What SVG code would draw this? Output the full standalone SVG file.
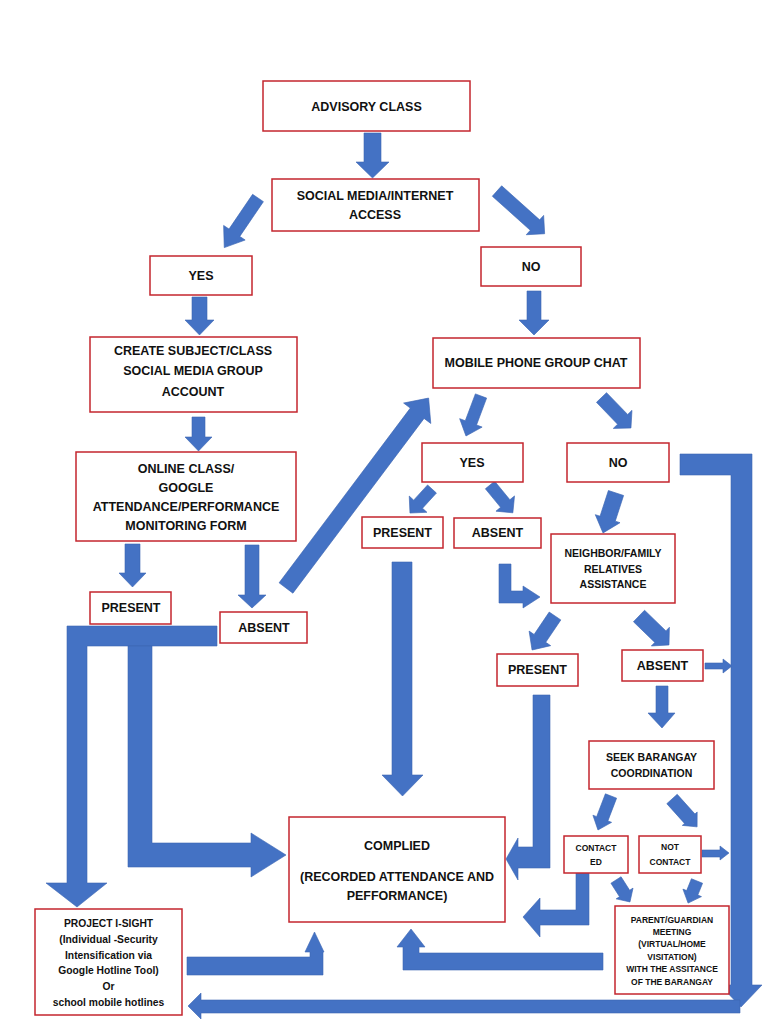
<svg xmlns="http://www.w3.org/2000/svg" width="768" height="1024" viewBox="0 0 768 1024">
<style>
.box{fill:#fff;stroke:#c4262e;stroke-width:1.5}
.t{font-family:"Liberation Sans",Arial,sans-serif;font-weight:bold;fill:#111;text-anchor:middle;font-size:12.5px}
.s{font-size:10.5px}
.xs{font-size:8.5px}
.m{font-size:10.3px}
.arr{fill:#4472c4;stroke:#3d67b3;stroke-width:0.6}
</style>
<rect width="768" height="1024" fill="#fff"/>
<g id="connectors">
<polygon class="arr" points="364,133 381,133 381,162 389,162 372.5,178 356,162 364,162"/>
<path class="arr" transform="translate(258,198) rotate(124.2)" d="M0,-6.5 H42 V-13 L60,0 L42,13 V6.5 H0 Z"/>
<path class="arr" transform="translate(497,191) rotate(41.9)" d="M0,-7 H51 V-13 L64,0 L51,13 V7 H0 Z"/>
<polygon class="arr" points="192,297 207,297 207,320 214,320 199.5,335 185,320 192,320"/>
<polygon class="arr" points="527,291 541,291 541,320 549,320 534,335 519,320 527,320"/>
<polygon class="arr" points="192,417 205,417 205,437 212,437 198.5,451 185,437 192,437"/>
<polygon class="arr" points="125,544 140,544 140,573 146,573 132.5,587 119,573 125,573"/>
<polygon class="arr" points="245,545 259,545 259,595 266,595 252,608 238,595 245,595"/>
<path class="arr" transform="translate(286,588) rotate(-53.1)" d="M0,-8.6 H218.5 V-17 L237.5,0 L218.5,17 V8.6 H0 Z"/>
<path class="arr" transform="translate(481,396) rotate(110.6)" d="M0,-6 H28.7 V-12 L42.7,0 L28.7,12 V6 H0 Z"/>
<path class="arr" transform="translate(601.5,397.5) rotate(46)" d="M0,-7 H30.4 V-13 L42.4,0 L30.4,13 V7 H0 Z"/>
<path class="arr" transform="translate(432,489) rotate(132.5)" d="M0,-6 H20.6 V-12 L32.6,0 L20.6,12 V6 H0 Z"/>
<path class="arr" transform="translate(490,485) rotate(50.6)" d="M0,-6 H24 V-12 L36,0 L24,12 V6 H0 Z"/>
<path class="arr" transform="translate(616,493) rotate(108)" d="M0,-8 H27 V-13 L42,0 L27,13 V8 H0 Z"/>
<polygon class="arr" points="499,564 511,564 511,591 523,591 523,586 540,597 523,608 523,603 499,603"/>
<path class="arr" transform="translate(555,616) rotate(124)" d="M0,-7 H27 V-13 L41,0 L27,13 V7 H0 Z"/>
<path class="arr" transform="translate(639,616) rotate(44)" d="M0,-8 H29.7 V-13 L41.7,0 L29.7,13 V8 H0 Z"/>
<polygon class="arr" points="705,663 723,663 723,659 732,666 723,673 723,669 705,669"/>
<polygon class="arr" points="656,686 668,686 668,713 675,713 662,728 648,713 656,713"/>
<polygon class="arr" points="392,562 412,562 412,775 423,775 402.5,796 382,775 392,775"/>
<polygon class="arr" points="533,695 550,695 550,868 518,868 518,880 506,859 518,838 518,847 533,847"/>
<polygon class="arr" points="680,454 752,454 752,985 762,985 741,1007 720,985 731,985 731,475 680,475"/>
<polygon class="arr" points="740,1000 740,1013 201,1013 201,1019 188,1006 201,993 201,1000"/>
<polygon class="arr" points="67,626 217,626 217,646 87,646 87,883 107,883 77,907 46,883 67,883"/>
<polygon class="arr" points="128,646 152,646 152,843 251,843 251,833 286,855 251,877 251,867 128,867"/>
<polygon class="arr" points="187,957 310,957 310,952 305,952 314.5,932 324,952 323,952 323,975 187,975"/>
<polygon class="arr" points="603,953 419,953 419,947 425,947 411,929 397,947 403,947 403,970 603,970"/>
<polygon class="arr" points="576,872 589,872 589,910 589,925 540,925 540,937 523,917 540,898 540,910 576,910"/>
<path class="arr" transform="translate(611,796) rotate(111)" d="M0,-6 H24.4 V-10 L36.4,0 L24.4,10 V6 H0 Z"/>
<path class="arr" transform="translate(672,799) rotate(48)" d="M0,-7 H26.5 V-10 L37.5,0 L26.5,10 V7 H0 Z"/>
<polygon class="arr" points="702,850 720,850 720,846 729,853 720,860 720,857 702,857"/>
<path class="arr" transform="translate(616,880) rotate(57.5)" d="M0,-6 H16 V-10 L26,0 L16,10 V6 H0 Z"/>
<path class="arr" transform="translate(697,881) rotate(112)" d="M0,-6 H12.8 V-10 L23.8,0 L12.8,10 V6 H0 Z"/>
</g>
<g id="advisory"><rect class="box" x="263" y="81" width="207" height="50"/><text class="t" x="366.5" y="111">ADVISORY CLASS</text></g>
<g id="social"><rect class="box" x="272" y="179" width="207" height="52"/><text class="t" x="375" y="200">SOCIAL MEDIA/INTERNET</text><text class="t" x="375" y="219">ACCESS</text></g>
<g id="yes1"><rect class="box" x="150" y="256" width="102" height="39"/><text class="t" x="201" y="280">YES</text></g>
<g id="no1"><rect class="box" x="481" y="247" width="100" height="39"/><text class="t" x="531" y="271">NO</text></g>
<g id="create"><rect class="box" x="90" y="337" width="207" height="75"/><text class="t" x="193" y="355">CREATE SUBJECT/CLASS</text><text class="t" x="193" y="375">SOCIAL MEDIA GROUP</text><text class="t" x="193" y="396">ACCOUNT</text></g>
<g id="mobile"><rect class="box" x="433" y="338" width="207" height="50"/><text class="t" x="536" y="367">MOBILE PHONE GROUP CHAT</text></g>
<g id="online"><rect class="box" x="76" y="452" width="220" height="89"/><text class="t" x="186" y="473">ONLINE CLASS/</text><text class="t" x="186" y="492">GOOGLE</text><text class="t" x="186" y="511">ATTENDANCE/PERFORMANCE</text><text class="t" x="186" y="530">MONITORING FORM</text></g>
<g id="present1"><rect class="box" x="90" y="592" width="81" height="32"/><text class="t" x="131" y="612">PRESENT</text></g>
<g id="absent1"><rect class="box" x="220" y="612" width="87" height="31"/><text class="t" x="264" y="632">ABSENT</text></g>
<g id="yes2"><rect class="box" x="422" y="443" width="101" height="39"/><text class="t" x="472" y="467">YES</text></g>
<g id="no2"><rect class="box" x="567" y="443" width="102" height="39"/><text class="t" x="618" y="467">NO</text></g>
<g id="present2"><rect class="box" x="362" y="517" width="81" height="31"/><text class="t" x="402.5" y="537">PRESENT</text></g>
<g id="absent2"><rect class="box" x="454" y="518" width="87" height="30"/><text class="t" x="497.5" y="537">ABSENT</text></g>
<g id="neighbor"><rect class="box" x="551" y="534" width="124" height="69"/><text class="t s" x="613" y="557">NEIGHBOR/FAMILY</text><text class="t s" x="613" y="573">RELATIVES</text><text class="t s" x="613" y="588">ASSISTANCE</text></g>
<g id="present3"><rect class="box" x="497" y="654" width="81" height="32"/><text class="t" x="537.5" y="674">PRESENT</text></g>
<g id="absent3"><rect class="box" x="622" y="650" width="81" height="31"/><text class="t" x="662.5" y="670">ABSENT</text></g>
<g id="seek"><rect class="box" x="589" y="741" width="125" height="48"/><text class="t s" x="651.5" y="761">SEEK BARANGAY</text><text class="t s" x="651.5" y="777">COORDINATION</text></g>
<g id="contacted"><rect class="box" x="564" y="836" width="64" height="37"/><text class="t xs" x="596" y="851">CONTACT</text><text class="t xs" x="596" y="865">ED</text></g>
<g id="notcontact"><rect class="box" x="639" y="836" width="62" height="37"/><text class="t xs" x="670" y="850">NOT</text><text class="t xs" x="670" y="865">CONTACT</text></g>
<g id="parent"><rect class="box" x="615" y="906" width="114" height="88"/><text class="t xs" x="672" y="923">PARENT/GUARDIAN</text><text class="t xs" x="672" y="935">MEETING</text><text class="t xs" x="672" y="947">(VIRTUAL/HOME</text><text class="t xs" x="672" y="960">VISITATION)</text><text class="t xs" x="672" y="972">WITH THE ASSITANCE</text><text class="t xs" x="672" y="985">OF THE BARANGAY</text></g>
<g id="complied"><rect class="box" x="289" y="817" width="216" height="105"/><text class="t" x="397" y="850">COMPLIED</text><text class="t" x="397" y="881">(RECORDED ATTENDANCE AND</text><text class="t" x="397" y="900">PEFFORMANCE)</text></g>
<g id="isight"><rect class="box" x="35" y="909" width="147" height="106"/><text class="t m" x="108.5" y="927">PROJECT I-SIGHT</text><text class="t m" x="108.5" y="943">(Individual -Security</text><text class="t m" x="108.5" y="959">Intensification via</text><text class="t m" x="108.5" y="974">Google Hotline Tool)</text><text class="t m" x="108.5" y="990">Or</text><text class="t m" x="108.5" y="1006">school mobile hotlines</text></g>
</svg>
